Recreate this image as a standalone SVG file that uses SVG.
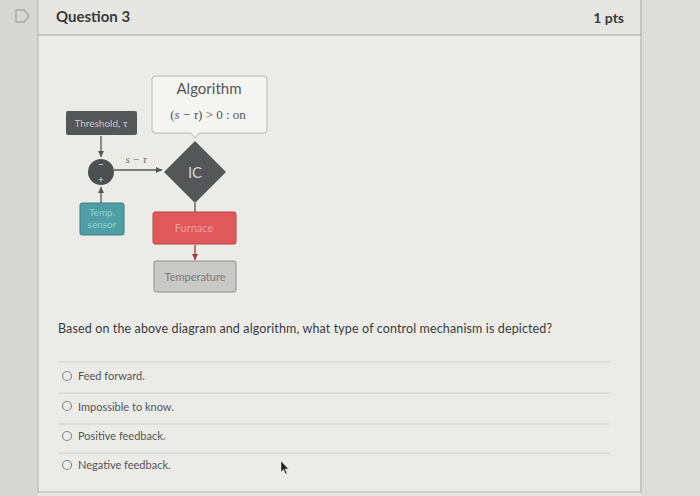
<svg xmlns="http://www.w3.org/2000/svg" width="700" height="496" viewBox="0 0 700 496">
<defs>
<style>
.ui{font-family:Lato,"Liberation Sans",sans-serif;fill:#3a3b3d}
.opt{font-family:Lato,"Liberation Sans",sans-serif;font-size:11px;fill:#555}
.sep{stroke:#d0d0cc;stroke-width:1}
.conn{stroke:#555;stroke-width:1.3;fill:none}
.lbl{font-family:Lato,"Liberation Sans",sans-serif;text-anchor:middle}
.radio{fill:none;stroke:#8a8a8a;stroke-width:1.2}
</style>
<marker id="ah" markerWidth="8" markerHeight="8" refX="6" refY="3" orient="auto" markerUnits="userSpaceOnUse">
<path d="M0,0 L6,3 L0,6 Z" fill="#555"/>
</marker>
<marker id="ahr" markerWidth="8" markerHeight="8" refX="6" refY="3" orient="auto" markerUnits="userSpaceOnUse">
<path d="M0,0 L6,3 L0,6 Z" fill="#a03a3a"/>
</marker>
</defs>
<rect x="0" y="0" width="700" height="496" fill="#e6e6e3"/>
<rect x="0" y="0" width="38" height="496" fill="#d6d6d3"/>
<rect x="641" y="0" width="59" height="496" fill="#dcdcd9"/>
<rect x="38" y="0" width="603" height="35" fill="#e6e6e3"/>
<rect x="39" y="36" width="602" height="456" fill="#ebebe8"/>
<line x1="38" y1="0" x2="38" y2="493" stroke="#b5b5b2" stroke-width="1"/>
<line x1="641" y1="0" x2="641" y2="493" stroke="#a8a8a5" stroke-width="1"/>
<line x1="38" y1="35" x2="641" y2="35" stroke="#a9a9a6" stroke-width="1"/>
<line x1="38" y1="492" x2="641" y2="492" stroke="#b5b5b2" stroke-width="1"/>
<path d="M16,10 H24 L29,16 L24,22 H16 Z" fill="none" stroke="#a5a5a2" stroke-width="1.3"/>
<text class="ui" x="56" y="22" font-size="15" font-weight="bold">Question 3</text>
<text class="ui" x="624" y="23" font-size="14" font-weight="bold" text-anchor="end">1 pts</text>

<g id="connectors">
<line class="conn" x1="101" y1="136" x2="101" y2="157" marker-end="url(#ah)"/>
<line class="conn" x1="101" y1="203" x2="101" y2="187" marker-end="url(#ah)"/>
<line class="conn" x1="114" y1="170" x2="162" y2="170" marker-end="url(#ah)"/>
<line class="conn" x1="195" y1="203" x2="195" y2="212"/>
<line x1="195" y1="245" x2="195" y2="260" stroke="#a03a3a" stroke-width="1.3" marker-end="url(#ahr)"/>
<text x="136" y="163" font-family="'Liberation Serif',serif" font-style="italic" font-size="11" fill="#666" text-anchor="middle">s − τ</text>
</g>

<g id="algorithm">
<path d="M155,76 H264 Q267,76 267,79 V130 Q267,133 264,133 H199 L195,138 L191,133 H155 Q152,133 152,130 V79 Q152,76 155,76 Z" fill="#f4f4f2" stroke="#b8b8b5" stroke-width="1"/>
<text class="lbl" x="209" y="94" font-size="15" fill="#555">Algorithm</text>
<text x="208" y="119" font-family="'Liberation Serif',serif" font-size="13" fill="#555" text-anchor="middle">(<tspan font-style="italic">s</tspan> − <tspan font-style="italic">τ</tspan>) &gt; 0 : on</text>
</g>

<g id="threshold">
<rect x="66" y="111" width="71" height="24" rx="2" fill="#555657"/>
<text class="lbl" x="101" y="127" font-size="10" fill="#c8c8c8">Threshold, τ</text>
</g>

<g id="sum">
<circle cx="101" cy="172" r="13" fill="#4e4f50"/>
<text class="lbl" x="101" y="168" font-size="10" fill="#ddd">−</text>
<text class="lbl" x="101" y="183" font-size="10" fill="#ddd">+</text>
</g>

<g id="ic">
<path d="M195,141 L226,172 L195,203 L164,172 Z" fill="#555657"/>
<text class="lbl" x="195" y="178" font-size="15" fill="#d8d8d8">IC</text>
</g>

<g id="temp-sensor">
<rect x="80" y="203" width="44" height="32" rx="2" fill="#4f9ea5" stroke="#3f7f86" stroke-width="1"/>
<text class="lbl" x="102" y="216" font-size="10" fill="#8fd0d6">Temp.</text>
<text class="lbl" x="102" y="228" font-size="10" fill="#8fd0d6">sensor</text>
</g>

<g id="furnace">
<rect x="153" y="212" width="83" height="32" rx="2" fill="#e0585a" stroke="#b84446" stroke-width="1"/>
<text class="lbl" x="194" y="232" font-size="11" fill="#f0a0a0">Furnace</text>
</g>

<g id="temperature">
<rect x="154" y="261" width="82" height="31" rx="2" fill="#c9c9c7" stroke="#8e8e8c" stroke-width="1"/>
<text class="lbl" x="195" y="281" font-size="11" fill="#7a7a7a">Temperature</text>
</g>

<text class="ui" x="58" y="333" font-size="12.5" textLength="494">Based on the above diagram and algorithm, what type of control mechanism is depicted?</text>

<line class="sep" x1="58" y1="362" x2="610" y2="362"/>
<circle class="radio" cx="67" cy="376" r="4.5"/>
<text class="opt" x="78" y="380">Feed forward.</text>
<line class="sep" x1="58" y1="393" x2="610" y2="393"/>
<circle class="radio" cx="67" cy="406" r="4.5"/>
<text class="opt" x="78" y="411">Impossible to know.</text>
<line class="sep" x1="58" y1="424" x2="610" y2="424"/>
<circle class="radio" cx="67" cy="436" r="4.5"/>
<text class="opt" x="78" y="440">Positive feedback.</text>
<line class="sep" x1="58" y1="453" x2="610" y2="453"/>
<circle class="radio" cx="67" cy="465" r="4.5"/>
<text class="opt" x="78" y="469">Negative feedback.</text>

<path d="M281,461 L281,472 L283.5,469.5 L285.5,474 L287,473.3 L285,469 L288.5,469 Z" fill="#222" stroke="#fff" stroke-width="0.4"/>
</svg>
